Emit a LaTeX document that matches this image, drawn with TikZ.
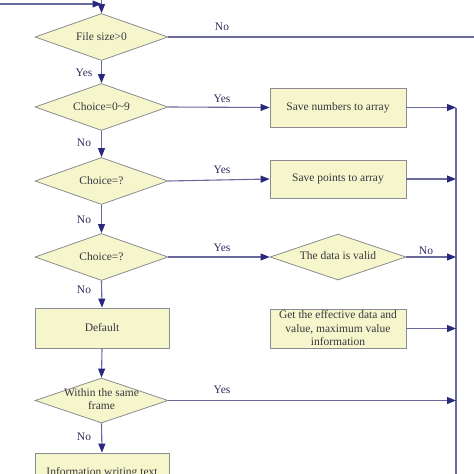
\documentclass[tikz,border=0pt]{standalone}
\usepackage{fontspec}
\setmainfont{Liberation Serif}
\usetikzlibrary{shapes.geometric,arrows.meta}
\definecolor{fillc}{RGB}{246,246,204}
\definecolor{bordc}{RGB}{140,140,145}
\definecolor{linec}{RGB}{105,105,155}
\definecolor{arrc}{RGB}{40,40,125}
\definecolor{txtc}{RGB}{55,55,65}
\definecolor{lblc}{RGB}{45,45,95}
\newcommand\dtext[1]{\makebox[0pt]{\begin{tabular}{@{}c@{}}#1\end{tabular}}}
\begin{document}
\begin{tikzpicture}[x=1pt,y=-1pt,font=\fontsize{11.5}{13.5}\selectfont,
  dia/.style={diamond, aspect=2.83, draw=bordc, fill=fillc, line width=0.8pt, inner sep=0pt,
    minimum width=133pt, minimum height=47pt, text=txtc, align=center},
  boxn/.style={rectangle, draw=bordc, fill=fillc, line width=0.8pt, inner sep=0pt,
    minimum width=134pt, minimum height=39pt, text=txtc, align=center},
  lbl/.style={text=lblc, inner sep=0pt},
  ln/.style={draw=linec, line width=1.1pt},
  arr/.style={draw=linec, line width=1.1pt, -{Triangle[length=9pt,width=7pt,color=arrc]}}]
\useasboundingbox (0,0) rectangle (474,474);
\clip (0,0) rectangle (474,474);
% left column
\node[dia] (d1) at (101.5,37) {File size>0};
\node[dia] (d2) at (101.5,107) {Choice=0\textasciitilde 9};
\node[dia] (d3) at (101.5,181) {Choice=?};
\node[dia] (d4) at (101.5,257) {Choice=?};
\node[boxn, minimum height=40pt] (b1) at (102,328) {Default};
\node[dia, minimum height=45pt] (d5) at (101.5,400.5) {\dtext{Within the same\\frame}};
\node[boxn, minimum height=40pt] (b2) at (102,473) {Information writing text};
% right column
\node[boxn, minimum width=136pt] (r1) at (338,107.5) {Save numbers to array};
\node[boxn, minimum width=136pt, minimum height=38pt] (r2) at (338,179) {Save points to array};
\node[dia, minimum width=136pt, minimum height=46pt] (r3) at (338,257) {\dtext{The data is valid}};
\node[boxn, minimum width=136pt] (r4) at (338,328.5) {Get the effective data and\\value, maximum value\\information};
% coordinates
\coordinate (t0) at (101.5,-2);
\coordinate (h0) at (-2,4);
\coordinate (h1) at (101.5,4);
\coordinate (e1) at (480,37);
\coordinate (vt) at (456,107.5);
\coordinate (vb) at (456,480);
% connectors
\draw[arr] (h0) -- (h1);
\draw[arr] (t0) -- (d1.north);
\draw[ln] (d1.east) -- (e1);
\draw[arr] (d1.south) -- (d2.north);
\draw[arr] (d2.south) -- (d3.north);
\draw[arr] (d3.south) -- (d4.north);
\draw[arr] (d4.south) -- (b1.north);
\draw[arr] (b1.south) -- (d5.north);
\draw[arr] (d5.south) -- (b2.north);
\draw[arr] (d2.east) -- (r1.west);
\draw[arr] (d3.east) -- (r2.west);
\draw[arr] (d4.east) -- (r3.west);
\draw[ln] (vt) -- (vb);
\draw[arr] (r1.east) -- (r1.east -| vt);
\draw[arr] (r2.east) -- (r2.east -| vt);
\draw[arr] (r3.east) -- (r3.east -| vt);
\draw[arr] (r4.east) -- (r4.east -| vt);
\draw[arr] (d5.east) -- (d5.east -| vt);
% labels
\node[lbl] (l1) at (222,27) {No};
\node[lbl] (l2) at (84,73) {Yes};
\node[lbl] (l3) at (222,99) {Yes};
\node[lbl] (l4) at (84,143) {No};
\node[lbl] (l5) at (222,170) {Yes};
\node[lbl] (l6) at (84,220) {No};
\node[lbl] (l7) at (222,248) {Yes};
\node[lbl] (l8) at (426,251) {No};
\node[lbl] (l9) at (84,290) {No};
\node[lbl] (l10) at (222,390) {Yes};
\node[lbl] (l11) at (84,437) {No};
\end{tikzpicture}
\end{document}
